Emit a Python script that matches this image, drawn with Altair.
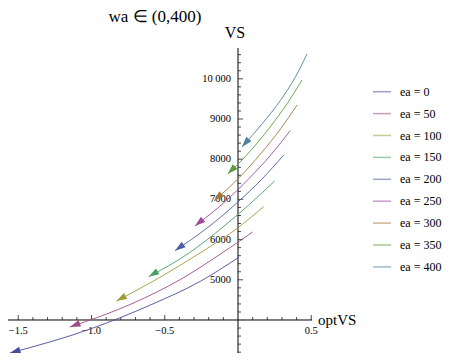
import math
import altair as alt
import pandas as pd

# ---------------- data ----------------
TITLE = "wa ∈ (0,400)"
X_TITLE = "optVS"
Y_TITLE = "VS"

SERIES = ["ea = 0", "ea = 50", "ea = 100", "ea = 150", "ea = 200",
          "ea = 250", "ea = 300", "ea = 350", "ea = 400"]
COLORS = ["#4b4b9e", "#9e4b86", "#a09a3c", "#4b9e64", "#4b5f9e",
          "#9e4b9c", "#a0783c", "#5a9e3c", "#4b84a0"]

# each curve listed from its arrow tip (lower left) to its upper end
OPT_EA0 = [-1.556, -1.01, -0.60, -0.256, 0.005]
VS_EA0 = [3179, 3774, 4370, 4965, 5560]
OPT_EA50 = [-1.147, -0.717, -0.393, -0.137, 0.100]
VS_EA50 = [3826, 4417, 5008, 5598, 6189]
OPT_EA100 = [-0.83, -0.535, -0.27, -0.024, 0.175]
VS_EA100 = [4470, 5057, 5644, 6231, 6818]
OPT_EA150 = [-0.61, -0.332, -0.118, 0.074, 0.25]
VS_EA150 = [5077, 5672, 6268, 6863, 7458]
OPT_EA200 = [-0.43, -0.20, -0.007, 0.164, 0.312]
VS_EA200 = [5725, 6320, 6915, 7509, 8104]
OPT_EA250 = [-0.294, -0.092, 0.077, 0.227, 0.357]
VS_EA250 = [6338, 6932, 7526, 8120, 8714]
OPT_EA300 = [-0.164, 0.012, 0.159, 0.290, 0.403]
VS_EA300 = [6960, 7557, 8154, 8751, 9348]
OPT_EA350 = [-0.07, 0.087, 0.219, 0.336, 0.437]
VS_EA350 = [7630, 8215, 8800, 9385, 9970]
OPT_EA400 = [0.027, 0.165, 0.289, 0.391, 0.471]
VS_EA400 = [8303, 8882, 9460, 10039, 10617]

X_MAJOR = [-1.5, -1.0, -0.5, 0.5]
X_MAJOR_LABELS = ["−1.5", "−1.0", "−0.5", "0.5"]
X_MINOR = [-1.4, -1.3, -1.2, -1.1, -0.9, -0.8, -0.7, -0.6, -0.4, -0.3,
           -0.2, -0.1, 0.1, 0.2, 0.3, 0.4]
Y_MAJOR = [5000, 6000, 7000, 8000, 9000, 10000]
Y_MAJOR_LABELS = ["5000", "6000", "7000", "8000", "9000", "10 000"]
Y_MINOR = [3200, 3400, 3600, 3800, 4200, 4400, 4600, 4800, 5200, 5400,
           5600, 5800, 6200, 6400, 6600, 6800, 7200, 7400, 7600, 7800,
           8200, 8400, 8600, 8800, 9200, 9400, 9600, 9800, 10200, 10400,
           10600]
X_AXIS_END = 0.506
Y_AXIS_TOP = 10766
AXIS_Y = 4000
AXIS_X = 0

# ---------------- layout ----------------
W, H = 434, 345
XMIN, XMAX = -1.570, 1.3925
YMIN, YMAX = 3179.1, 11761.2
PX_X = W / (XMAX - XMIN)
PX_Y = H / (YMAX - YMIN)
SERIF = "Liberation Serif"

XS = alt.Scale(domain=[XMIN, XMAX], nice=False, zero=False)
YS = alt.Scale(domain=[YMIN, YMAX], nice=False, zero=False)

opts = [OPT_EA0, OPT_EA50, OPT_EA100, OPT_EA150, OPT_EA200,
        OPT_EA250, OPT_EA300, OPT_EA350, OPT_EA400]
vss = [VS_EA0, VS_EA50, VS_EA100, VS_EA150, VS_EA200,
       VS_EA250, VS_EA300, VS_EA350, VS_EA400]

rows, tips = [], []
for k, (name, xs, ys) in enumerate(zip(SERIES, opts, vss)):
    for i, (x, y) in enumerate(zip(xs, ys)):
        rows.append({"series": name, "optVS": x, "VS": y, "i": i, "k": k})
    dxp = (xs[1] - xs[0]) * PX_X
    dyp = -(ys[1] - ys[0]) * PX_Y
    ang = math.degrees(math.atan2(dyp, dxp)) % 360
    tips.append({"series": name, "optVS": xs[0], "VS": ys[0], "angle": ang})

df = pd.DataFrame(rows)
tips_df = pd.DataFrame(tips)

x_enc = alt.X("x:Q", scale=XS, axis=None)
y_enc = alt.Y("y:Q", scale=YS, axis=None)

axes_df = pd.DataFrame({"x": [XMIN, AXIS_X], "x2": [X_AXIS_END, AXIS_X],
                        "y": [AXIS_Y, YMIN], "y2": [AXIS_Y, Y_AXIS_TOP]})
axes = alt.Chart(axes_df).mark_rule(color="black", strokeWidth=1).encode(
    x=x_enc, x2="x2:Q", y=y_enc, y2="y2:Q")

xmaj = alt.Chart(pd.DataFrame({"x": X_MAJOR, "y": [AXIS_Y] * len(X_MAJOR),
                               "t": X_MAJOR_LABELS}))
xmin_ = alt.Chart(pd.DataFrame({"x": X_MINOR, "y": [AXIS_Y] * len(X_MINOR)}))
ymaj = alt.Chart(pd.DataFrame({"y": Y_MAJOR, "x": [AXIS_X] * len(Y_MAJOR),
                               "t": Y_MAJOR_LABELS}))
ymin_ = alt.Chart(pd.DataFrame({"y": Y_MINOR, "x": [AXIS_X] * len(Y_MINOR)}))

xmaj_ticks = xmaj.mark_tick(orient="vertical", size=5, thickness=1, yOffset=-2.5,
                            color="black").encode(x=x_enc, y=y_enc)
xmin_ticks = xmin_.mark_tick(orient="vertical", size=3, thickness=1, yOffset=-1.5,
                             color="black").encode(x=x_enc, y=y_enc)
ymaj_ticks = ymaj.mark_tick(orient="horizontal", size=5, thickness=1, xOffset=2.5,
                            color="black").encode(x=x_enc, y=y_enc)
ymin_ticks = ymin_.mark_tick(orient="horizontal", size=3, thickness=1, xOffset=1.5,
                             color="black").encode(x=x_enc, y=y_enc)
xlabels = xmaj.mark_text(font=SERIF, fontSize=10.5, baseline="middle", dy=11,
                         color="black").encode(x=x_enc, y=y_enc, text="t:N")
ylabels = ymaj.mark_text(font=SERIF, fontSize=10.5, baseline="middle", align="right",
                         dx=-7, color="black").encode(x=x_enc, y=y_enc, text="t:N")

lines = alt.Chart(df).mark_line(strokeWidth=1, interpolate="monotone", opacity=0.9).encode(
    x=alt.X("optVS:Q", scale=XS, axis=None),
    y=alt.Y("VS:Q", scale=YS, axis=None),
    color=alt.Color("series:N", scale=alt.Scale(domain=SERIES, range=COLORS), legend=None),
    order="i:Q",
    detail="series:N",
)

ARROW = "M0,0L2,-0.65L2,0.65Z"
arrows = alt.Chart(tips_df).mark_point(shape=ARROW, filled=True, size=110,
                                       opacity=1, strokeWidth=0).encode(
    x=alt.X("optVS:Q", scale=XS, axis=None),
    y=alt.Y("VS:Q", scale=YS, axis=None),
    fill=alt.Fill("series:N", scale=alt.Scale(domain=SERIES, range=COLORS), legend=None),
    angle=alt.Angle("angle:Q", scale=None),
)

# ---- custom legend (pixel layout) ----
LEG_X0, LEG_X1, LEG_TX = 365, 383, 392
LEG_Y0, LEG_DY = 83.7, 21.9
leg_df = pd.DataFrame({"series": SERIES,
                       "py": [LEG_Y0 + LEG_DY * k for k in range(len(SERIES))]})
leg_lines = alt.Chart(leg_df).mark_rule(strokeWidth=1.5, opacity=0.55).encode(
    x=alt.value(LEG_X0), x2=alt.value(LEG_X1),
    y=alt.Y("py:Q", scale=None, axis=None),
    color=alt.Color("series:N", scale=alt.Scale(domain=SERIES, range=COLORS), legend=None),
)
leg_text = alt.Chart(leg_df).mark_text(font=SERIF, fontSize=12, align="left",
                                       baseline="middle", color="black").encode(
    x=alt.value(LEG_TX),
    y=alt.Y("py:Q", scale=None, axis=None),
    text="series:N",
)


def label(txt, x, y, size, align="center", baseline="alphabetic"):
    return alt.Chart(pd.DataFrame({"t": [txt]})).mark_text(
        font=SERIF, fontSize=size, align=align, baseline=baseline, color="black"
    ).encode(text="t:N", x=alt.value(x), y=alt.value(y))


title = label(TITLE, 147, 13.5, 17)
ytitle = label(Y_TITLE, 227, 30, 16)
xtitle = label(X_TITLE, 310, 317, 15, align="left")

chart = alt.layer(
    axes, xmin_ticks, xmaj_ticks, ymin_ticks, ymaj_ticks, xlabels, ylabels,
    lines, arrows, leg_lines, leg_text, title, ytitle, xtitle
).resolve_scale(
    x="independent", y="independent", color="independent"
).properties(
    width=W, height=H, padding=0, autosize=alt.AutoSizeParams(type="none"),
    background="white"
).configure_view(stroke=None)

chart.save("out.html", embed_options={"renderer": "svg", "actions": False})
